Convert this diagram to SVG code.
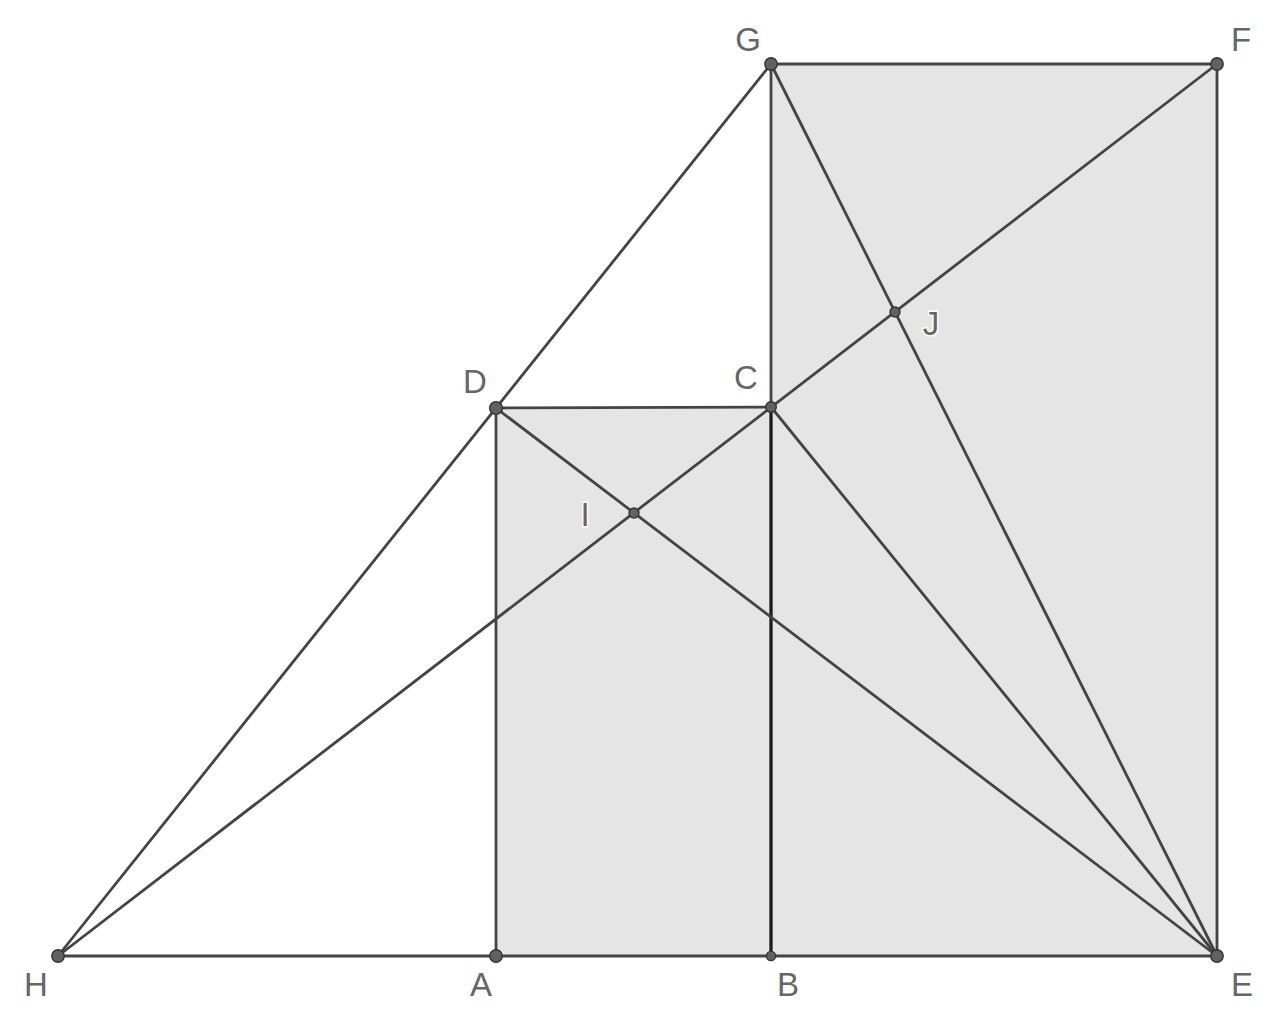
<svg xmlns="http://www.w3.org/2000/svg" width="1280" height="1018" viewBox="0 0 1280 1018">
<style>
.fill{fill:#e5e5e5;stroke:none}
.ln{stroke:#444;stroke-width:2.8;fill:none;stroke-linecap:round}
.dk{stroke:#1c1c1c;stroke-width:3.3;fill:none}
.pt{fill:#616161;stroke:#333;stroke-width:1.4}
.lb{font-family:"Liberation Sans",Arial,sans-serif;font-size:33px;fill:#666;text-anchor:middle;stroke:#fff;stroke-width:3;paint-order:stroke}
</style>
<rect width="1280" height="1018" fill="#fff"/>
<g id="shading">
<polygon class="fill" points="496,956 771,956 771,407 496,408"/>
<polygon class="fill" points="771,956 1217,956 1217,64 771,64"/>
</g>
<g id="connectors">
<line class="ln" x1="58" y1="956" x2="1217" y2="956"/>
<line class="ln" x1="58" y1="956" x2="771" y2="64"/>
<line class="ln" x1="58" y1="956" x2="1217" y2="64"/>
<line class="ln" x1="771" y1="64" x2="1217" y2="64"/>
<line class="ln" x1="1217" y1="64" x2="1217" y2="956"/>
<line class="ln" x1="771" y1="64" x2="771" y2="407"/>
<line class="dk" x1="771" y1="407" x2="771" y2="956"/>
<line class="ln" x1="496" y1="408" x2="771" y2="407"/>
<line class="ln" x1="496" y1="408" x2="496" y2="956"/>
<line class="ln" x1="771" y1="64" x2="1217" y2="956"/>
<line class="ln" x1="496" y1="408" x2="1217" y2="956"/>
<line class="ln" x1="771" y1="407" x2="1217" y2="956"/>
</g>
<g id="node-H"><circle class="pt" cx="58" cy="956" r="6.2"/><text class="lb" x="36" y="996">H</text></g>
<g id="node-A"><circle class="pt" cx="496" cy="956" r="6.2"/><text class="lb" x="481" y="996">A</text></g>
<g id="node-B"><circle class="pt" cx="771" cy="956" r="4.6"/><text class="lb" x="788" y="996">B</text></g>
<g id="node-E"><circle class="pt" cx="1217" cy="956" r="6.2"/><text class="lb" x="1242" y="996">E</text></g>
<g id="node-D"><circle class="pt" cx="496" cy="408" r="6.4"/><text class="lb" x="475" y="393">D</text></g>
<g id="node-C"><circle class="pt" cx="771" cy="407" r="5.3"/><text class="lb" x="746" y="389">C</text></g>
<g id="node-G"><circle class="pt" cx="771" cy="64" r="6.2"/><text class="lb" x="748" y="51">G</text></g>
<g id="node-F"><circle class="pt" cx="1217" cy="64" r="6.2"/><text class="lb" x="1241" y="51">F</text></g>
<g id="node-I"><circle class="pt" cx="634" cy="513" r="5"/><text class="lb" x="585" y="526">I</text></g>
<g id="node-J"><circle class="pt" cx="895" cy="312" r="5"/><text class="lb" x="931" y="335">J</text></g>
</svg>
